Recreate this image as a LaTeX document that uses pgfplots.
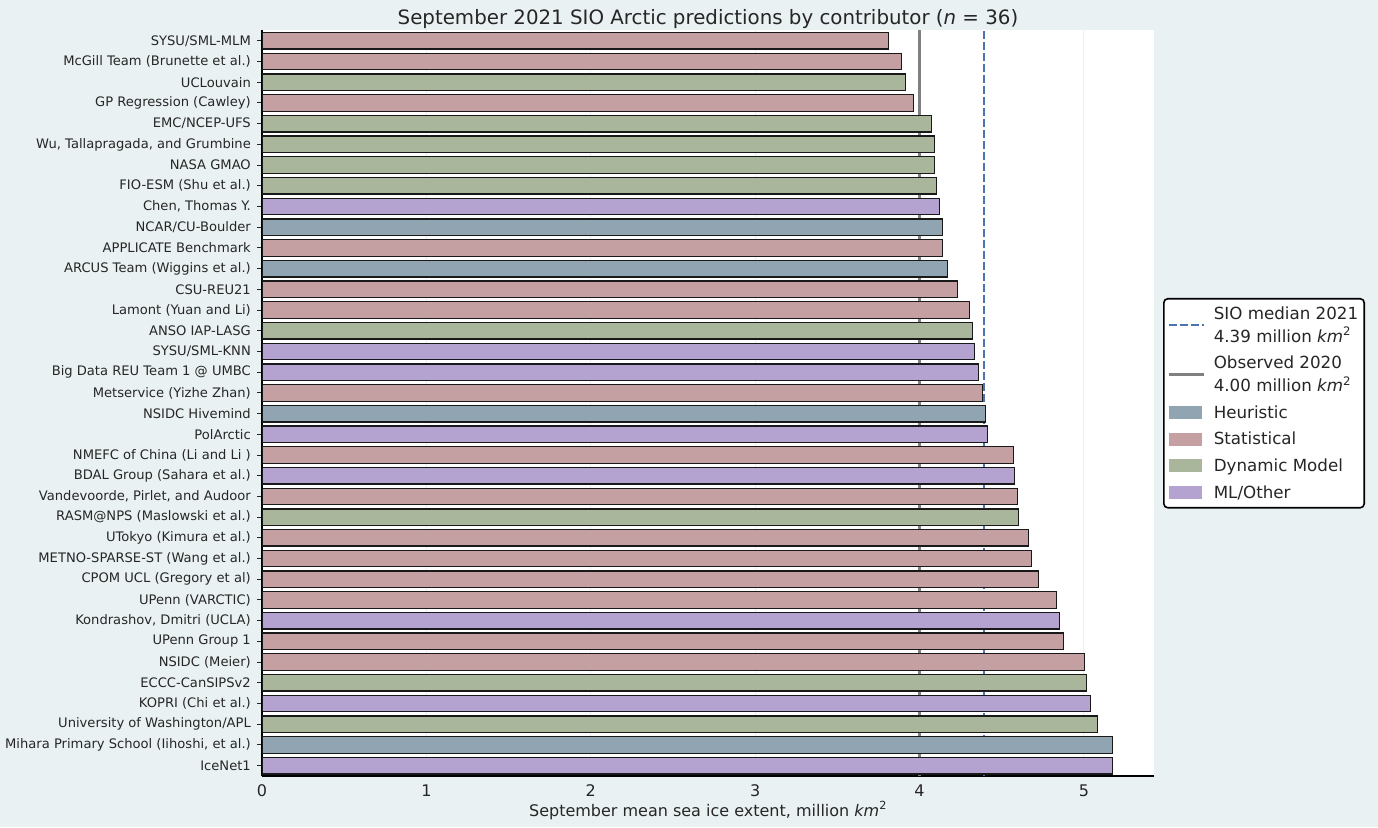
\documentclass[border=0pt]{standalone}
\usepackage{pgfplots}
\pgfplotsset{compat=1.18}
\usepackage{fontspec}
\setmainfont{DejaVu Sans}

\definecolor{figbg}{RGB}{234,241,242}
\definecolor{txt}{RGB}{38,38,38}
\definecolor{heur}{RGB}{145,164,178}
\definecolor{stat}{RGB}{196,160,162}
\definecolor{dyn}{RGB}{170,182,156}
\definecolor{mlo}{RGB}{180,163,208}
\definecolor{sio}{RGB}{76,114,176}
\definecolor{obs}{RGB}{128,128,128}

\pgfplotsset{
  barstyle/.style={xbar, bar shift=0pt, bar width=0.8, draw=black!90, line width=1.3pt},
  lineleg/.style={legend image code/.code={\path[draw=none, fill=none] (0pt,0pt) -- (44pt,0pt);
      \draw[##1, sharp corners] (2pt,0pt) -- (37pt,0pt);}},
  boxleg/.style={legend image code/.code={\path[draw=none, fill=none] (0pt,0pt) -- (44pt,0pt);
      \fill[##1, draw=none, sharp corners] (2pt,-6.5pt) rectangle (35pt,6.5pt);}},
}

\begin{document}
\begin{tikzpicture}
\fill[figbg] (0,0) rectangle (1378pt,827pt);
\begin{axis}[
  at={(262pt,51pt)}, anchor=south west,
  scale only axis, width=892pt, height=745.5pt,
  xmin=0, xmax=5.426, ymin=-0.5, ymax=35.5,
  enlargelimits=false,
  axis background/.style={fill=white},
  axis lines*=left,
  axis line style={-, line width=1.2pt, draw=black},
  xtick={0,1,2,3,4,5},
  xtick style={draw=none},
  ytick={0,...,35},
  yticklabels={{IceNet1},{Mihara Primary School (Iihoshi, et al.)},{University of Washington/APL},
    {KOPRI (Chi et al.)},{ECCC-CanSIPSv2},{NSIDC (Meier)},{UPenn Group 1},{Kondrashov, Dmitri (UCLA)},
    {UPenn (VARCTIC)},{CPOM UCL (Gregory et al)},{METNO-SPARSE-ST (Wang et al.)},{UTokyo (Kimura et al.)},
    {RASM@NPS (Maslowski et al.)},{Vandevoorde, Pirlet, and Audoor},{BDAL Group (Sahara et al.)},
    {NMEFC of China (Li and Li )},{PolArctic},{NSIDC Hivemind},{Metservice (Yizhe Zhan)},
    {Big Data REU Team 1 @ UMBC},{SYSU/SML-KNN},{ANSO IAP-LASG},{Lamont (Yuan and Li)},{CSU-REU21},
    {ARCUS Team (Wiggins et al.)},{APPLICATE Benchmark},{NCAR/CU-Boulder},{Chen, Thomas Y.},
    {FIO-ESM (Shu et al.)},{NASA GMAO},{Wu, Tallapragada, and Grumbine},{EMC/NCEP-UFS},
    {GP Regression (Cawley)},{UCLouvain},{McGill Team (Brunette et al.)},{SYSU/SML-MLM}},
  ytick style={draw=txt, line width=1pt},
  tick align=outside, major tick length=5pt,
  xmajorgrids, major grid style={figbg, line width=1pt},
  /pgf/number format/assume math mode=true,
  yticklabel style={font=\fontsize{13.1}{15}\selectfont, text=txt, anchor=east, inner sep=0pt, xshift=-6pt},
  xticklabel style={font=\fontsize{16}{18}\selectfont, text=txt, anchor=base, yshift=-15pt},
  every axis x label/.style={at={(axis description cs:0.5,0)}, anchor=base, yshift=-40pt,
    font=\fontsize{16}{18}\selectfont, text=txt},
  xlabel={September mean sea ice extent, million \textit{km}\textsuperscript{2}},
  title={September 2021 SIO Arctic predictions by contributor (\textit{n} = 36)},
  every axis title/.style={at={(axis description cs:0.5,1)}, anchor=base, inner sep=0pt, yshift=5.5pt,
    font=\fontsize{19.8}{24}\selectfont, text=txt},
  legend style={at={(1,0.5)}, anchor=west, xshift=9pt, draw=black, line width=1.6pt,
    rounded corners=4pt, fill=white, font=\fontsize{16.7}{22.7}\selectfont, text=txt,
    cells={anchor=west, align=left}, inner xsep=3pt, inner ysep=5pt, row sep=6.5pt,
    nodes={inner sep=3pt}},
  legend cell align=left,
]
% reference lines (drawn first, below the bars)
\addplot[sio, line width=2pt, dash pattern=on 7.7pt off 3.3pt, lineleg] coordinates {(4.39,-0.5) (4.39,35.5)};
\addlegendentry{SIO median 2021\\4.39 million \textit{km}\textsuperscript{2}}
\addplot[obs, line width=2.8pt, lineleg] coordinates {(4.00,-0.5) (4.00,35.5)};
\addlegendentry{Observed 2020\\4.00 million \textit{km}\textsuperscript{2}}

% Heuristic
\addplot[barstyle, fill=heur, boxleg] coordinates {
  (4.140,26) (4.171,24) (4.402,17) (5.172,1)};
\addlegendentry{Heuristic}
% Statistical
\addplot[barstyle, fill=stat, boxleg] coordinates {
  (3.810,35) (3.891,34) (3.964,32) (4.140,25) (4.232,23) (4.305,22) (4.384,18) (4.572,15)
  (4.597,13) (4.664,11) (4.682,10) (4.722,9) (4.832,8) (4.874,6) (5.002,5)};
\addlegendentry{Statistical}
% Dynamic Model
\addplot[barstyle, fill=dyn, boxleg] coordinates {
  (3.915,33) (4.073,31) (4.092,30) (4.092,29) (4.104,28) (4.321,21) (4.603,12) (5.014,4) (5.081,2)};
\addlegendentry{Dynamic Model}
% ML/Other
\addplot[barstyle, fill=mlo, boxleg] coordinates {
  (4.122,27) (4.335,20) (4.359,19) (4.414,16) (4.578,14) (4.850,7) (5.038,3) (5.172,0)};
\addlegendentry{ML/Other}
\end{axis}
\pgfresetboundingbox
\useasboundingbox (0,0) rectangle (1378pt,827pt);
\end{tikzpicture}
\end{document}
